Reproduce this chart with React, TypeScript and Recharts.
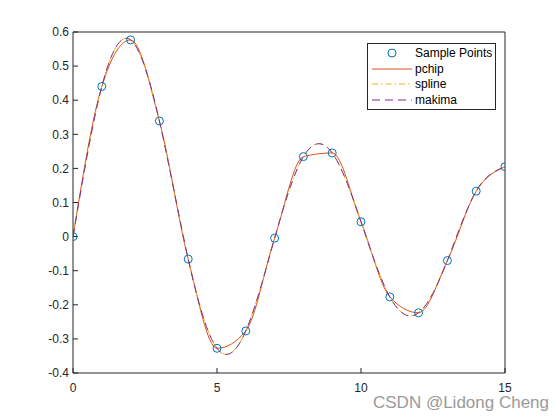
import React from 'react';
import { LineChart, Line, XAxis, YAxis } from 'recharts';

// sample points (x = 0:15)
const xValues = [0, 1, 2, 3, 4, 5, 6, 7, 8, 9, 10, 11, 12, 13, 14, 15];
const yValues = [
  0, 0.4401, 0.5767, 0.3391, -0.066, -0.3276, -0.2767, -0.0047, 0.2346, 0.2453,
  0.0435, -0.1768, -0.2234, -0.0703, 0.1334, 0.2051,
];

const xTicks = [0, 5, 10, 15];
const yTicks = [-0.4, -0.3, -0.2, -0.1, 0, 0.1, 0.2, 0.3, 0.4, 0.5, 0.6];

const seriesNames = ['Sample Points', 'pchip', 'spline', 'makima'];

const BLUE = '#0072BD';
const ORANGE = '#D95319';
const YELLOW = '#EDB120';
const PURPLE = '#7E2F8E';
const AXIS = '#262626';
const FONT = '"Liberation Sans", Arial, sans-serif';

const data = xValues.map((x, i) => ({ x, y: yValues[i] }));

const tickStyle = { fontSize: 12, fill: AXIS, fontFamily: FONT };

// legend drawn by hand, MATLAB style box in the upper right
const LegendBox = () => {
  const rows = [
    { name: seriesNames[0], kind: 'circle' },
    { name: seriesNames[1], color: ORANGE, dash: undefined },
    { name: seriesNames[2], color: YELLOW, dash: '6 3 1.5 3' },
    { name: seriesNames[3], color: PURPLE, dash: '8 5' },
  ];
  return (
    <div
      style={{
        position: 'absolute',
        left: 367,
        top: 43,
        border: `1px solid ${AXIS}`,
        background: '#fff',
        width: 129,
        height: 67,
        boxSizing: 'border-box',
        padding: '1px 0 0 0',
        fontFamily: FONT,
        fontSize: 12,
        color: '#000',
      }}
    >
      {rows.map((r) => (
        <div key={r.name} style={{ display: 'flex', alignItems: 'center', height: 15.7 }}>
          <svg width={46} height={14} style={{ flex: 'none' }}>
            {r.kind === 'circle' ? (
              <circle cx={24} cy={7} r={4} fill="none" stroke={BLUE} strokeWidth={1} />
            ) : (
              <line x1={4} y1={7} x2={44} y2={7} stroke={r.color} strokeWidth={1} strokeDasharray={r.dash} />
            )}
          </svg>
          <span style={{ marginLeft: 1, lineHeight: '14px' }}>{r.name}</span>
        </div>
      ))}
    </div>
  );
};

const App = () => {
  return (
    <div style={{ position: 'relative', width: 560, height: 420, background: '#fff' }}>
      <style>{'body{margin:0}'}</style>
      <LineChart
        width={560}
        height={420}
        data={data}
        margin={{ top: 31, right: 54, left: 33, bottom: 17 }}
      >
        <XAxis
          xAxisId="bottom"
          dataKey="x"
          type="number"
          domain={[0, 15]}
          ticks={xTicks}
          height={30}
          tickSize={-5}
          tickMargin={15}
          tick={tickStyle}
          stroke={AXIS}
          allowDataOverflow
        />
        <XAxis
          xAxisId="top"
          dataKey="x"
          type="number"
          orientation="top"
          domain={[0, 15]}
          ticks={xTicks}
          height={1}
          tickSize={-5}
          tick={false}
          stroke={AXIS}
          allowDataOverflow
        />
        <YAxis
          yAxisId="left"
          type="number"
          domain={[-0.4, 0.6]}
          ticks={yTicks}
          width={40}
          tickSize={-5}
          tickMargin={9}
          tick={tickStyle}
          tickFormatter={(v: number) => String(v)}
          stroke={AXIS}
          allowDataOverflow
        />
        <YAxis
          yAxisId="right"
          type="number"
          orientation="right"
          domain={[-0.4, 0.6]}
          ticks={yTicks}
          width={1}
          tickSize={-5}
          tick={false}
          stroke={AXIS}
          allowDataOverflow
        />
        {/* invisible series so the top/right axes get drawn (box on) */}
        <Line
          xAxisId="top"
          yAxisId="right"
          dataKey="y"
          stroke="none"
          dot={false}
          activeDot={false}
          isAnimationActive={false}
        />
        <Line
          xAxisId="bottom"
          yAxisId="left"
          dataKey="y"
          name={seriesNames[0]}
          stroke="none"
          dot={{ r: 4, fill: 'none', stroke: BLUE, strokeWidth: 1 }}
          activeDot={false}
          isAnimationActive={false}
        />
        <Line
          xAxisId="bottom"
          yAxisId="left"
          type="monotone"
          dataKey="y"
          name={seriesNames[1]}
          stroke={ORANGE}
          strokeWidth={1}
          dot={false}
          activeDot={false}
          isAnimationActive={false}
        />
        <Line
          xAxisId="bottom"
          yAxisId="left"
          type="natural"
          dataKey="y"
          name={seriesNames[2]}
          stroke={YELLOW}
          strokeWidth={1}
          strokeDasharray="6 3 1.5 3"
          dot={false}
          activeDot={false}
          isAnimationActive={false}
        />
        <Line
          xAxisId="bottom"
          yAxisId="left"
          type="natural"
          dataKey="y"
          name={seriesNames[3]}
          stroke={PURPLE}
          strokeWidth={1}
          strokeDasharray="8 5"
          dot={false}
          activeDot={false}
          isAnimationActive={false}
        />
      </LineChart>
      <LegendBox />
      <div
        style={{
          position: 'absolute',
          left: 373,
          top: 397,
          fontFamily: FONT,
          fontSize: 17,
          lineHeight: '12px',
          color: '#9a9a9a',
          whiteSpace: 'nowrap',
        }}
      >
        CSDN @Lidong Cheng
      </div>
    </div>
  );
};

export default App;
